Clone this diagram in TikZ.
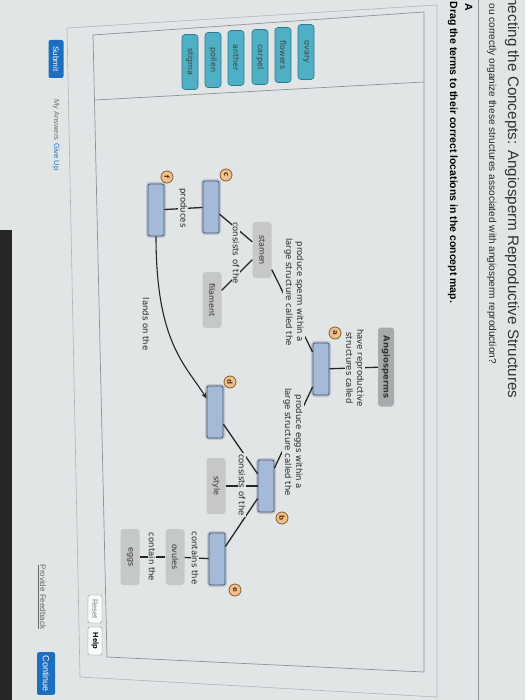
\documentclass[tikz,border=0pt]{standalone}
\usepackage{fontspec}
\setmainfont{DejaVu Sans}
\newfontfamily\webfont{Liberation Sans}
\usetikzlibrary{arrows.meta}

\definecolor{screenbg}{HTML}{E1E5E6}
\definecolor{chipfill}{HTML}{4FB0C5}
\definecolor{chipline}{HTML}{2C7A8C}
\definecolor{slotfill}{HTML}{A4BAD7}
\definecolor{slotline}{HTML}{44566E}
\definecolor{slothalo}{HTML}{C0C6CE}
\definecolor{termfill}{HTML}{C6C7C9}
\definecolor{rootfill}{HTML}{A8AAAC}
\definecolor{tagfill}{HTML}{F0C08C}
\definecolor{tagline}{HTML}{8A5A2C}
\definecolor{btnblue}{HTML}{1E6EC0}
\definecolor{framegray}{HTML}{8E9397}

\tikzset{
  slot/.style={rectangle, rounded corners=2pt, draw=slotline, fill=slotfill, line width=0.8pt,
    minimum width=52pt, minimum height=16pt, preaction={draw=slothalo, line width=4pt}},
  term/.style={rectangle, rounded corners=3pt, fill=termfill, minimum width=56pt, minimum height=19pt,
    font=\fontsize{8}{9}\selectfont, text=black!80},
  chip/.style={rectangle, rounded corners=3pt, draw=chipline, fill=chipfill, line width=0.6pt,
    minimum width=55pt, minimum height=16pt, font=\fontsize{8}{9}\selectfont, text=black!75},
  lbl/.style={fill=screenbg, inner sep=1pt, align=center, font=\fontsize{8.5}{11}\selectfont, text=black!85},
  tag/.style={circle, draw=tagline, fill=tagfill, line width=0.8pt, minimum size=12pt, inner sep=0pt,
    font=\fontsize{7}{7}\selectfont\bfseries, text=tagline!60!black},
  link/.style={line width=1.3pt, draw=black!85},
  btnbox/.style={rectangle, rounded corners=1.5pt, draw=black!45, fill=white!85!screenbg, minimum width=28pt,
    minimum height=14pt, inner sep=1pt, font=\webfont\fontsize{7.5}{8}\selectfont}
}

\begin{document}
\begin{tikzpicture}[x=1pt,y=1pt]
\begin{scope}[rotate=-90, transform shape]
  \path[use as bounding box] (0,0) rectangle (700,525);
  \clip (0,0) rectangle (700,525);
  \fill[screenbg] (0,0) rectangle (700,525);
  \fill[black!85] (230,0) rectangle (700,12);

  % header
  \node[anchor=base west, font=\webfont\fontsize{15.2}{16}\selectfont, text=black!80] (title) at (-6,508)
    {necting the Concepts: Angiosperm Reproductive Structures};
  \node[anchor=base west, font=\webfont\fontsize{10.1}{11}\selectfont, text=black!85] (question) at (0,489)
    {ou correctly organize these structures associated with angiosperm reproduction?};
  \draw[framegray, line width=0.6pt] (0,478) -- (700,478);
  \node[anchor=base west, font=\webfont\bfseries\fontsize{10.5}{11}\selectfont] (part) at (0,465) {A};
  \node[anchor=base west, font=\webfont\bfseries\fontsize{10.5}{11}\selectfont] (drag) at (-2,450)
    {Drag the terms to their correct locations in the concept map.};

  % panels
  \draw[framegray!70, line width=0.6pt] (28,67) -- (5,437) -- (697,437) -- (677,80) -- cycle;
  \draw[framegray, line width=0.7pt] (35,93) -- (12,424) -- (672,424) -- (657,107) -- cycle;
  \draw[framegray, line width=0.7pt] (100,95) -- (82,424);

  % term bank
  \node[chip] (ovary) at (52,306) {ovary};
  \node[chip] (flowers) at (55,283) {flowers};
  \node[chip] (carpel) at (57,260) {carpel};
  \node[chip] (anther) at (58,236) {anther};
  \node[chip] (pollen) at (60,213) {pollen};
  \node[chip] (stigma) at (62,190) {stigma};

  % concept map
  \node[term, fill=rootfill, font=\fontsize{8.5}{9}\selectfont\bfseries, minimum width=79pt, minimum height=16pt] (angio) at (367,386) {Angiosperms};
  \node[slot] (slota) at (369,321) {};
  \node[slot] (slotb) at (486,266) {};
  \node[slot] (slotc) at (207,211) {};
  \node[slot] (slotd) at (412,215) {};
  \node[slot] (slote) at (559,217) {};
  \node[slot] (slotf) at (210,156) {};
  \node[term] (stamen) at (250,262) {stamen};
  \node[term] (filament) at (300,212) {filament};
  \node[term] (style) at (486,216) {style};
  \node[term] (ovules) at (557,175) {ovules};
  \node[term] (eggs) at (557,130) {eggs};

  \draw[link] (angio) -- (slota);
  \draw[link] (slota) -- (stamen);
  \draw[link] (slota) -- (slotb);
  \draw[link] (stamen) -- (slotc);
  \draw[link] (stamen) -- (filament);
  \draw[link] (slotc) -- (slotf);
  \draw[link] (slotb) -- (slotd);
  \draw[link] (slotb) -- (style);
  \draw[link] (slotb) -- (slote);
  \draw[link] (slote) -- (ovules);
  \draw[link] (ovules) -- (eggs);
  \draw[link, line width=1.1pt, -{Stealth[length=6pt,width=5pt]}] (slotf)
    to[out=0, in=212, out looseness=1.6, in looseness=0.6] (slotd);

  \node[lbl] (haslbl) at (368,355) {have reproductive\\structures called};
  \node[lbl] (spermlbl) at (292,294) {produce sperm within a\\large structure called the};
  \node[lbl] (egglbl) at (442,293) {produce eggs within a\\large structure called the};
  \node[lbl] (conslbl) at (253,236) {consists of the};
  \node[lbl] (prodlbl) at (208,183) {produces};
  \node[lbl] (conslblb) at (485,242) {consists of the};
  \node[lbl] (contlbl) at (558,195) {contains the};
  \node[lbl] (eggslbl) at (557,152) {contain the};
  \node[lbl, fill=none] (landlbl) at (324,146) {lands on the};

  \node[tag] (taga) at (333,335) {a};
  \node[tag] (tagb) at (518,282) {b};
  \node[tag] (tagc) at (175,226) {c};
  \node[tag] (tagd) at (382,230) {d};
  \node[tag] (tage) at (590,235) {e};
  \node[tag] (tagf) at (177,167) {f};

  % buttons
  \node[rectangle, rounded corners=2pt, fill=btnblue, text=white, minimum width=38pt, minimum height=15pt,
    font=\webfont\fontsize{8}{9}\selectfont] (submit) at (59,56) {Submit};
  \node[font=\webfont\fontsize{7.5}{8}\selectfont, text=black!55] (myans) at (120,56) {My Answers};
  \node[font=\webfont\fontsize{7.5}{8}\selectfont, text=btnblue] (giveup) at (157,56) {Give Up};
  \node[btnbox, text=black!50] (reset) at (609,95) {Reset};
  \node[btnbox, font=\webfont\bfseries\fontsize{7.5}{8}\selectfont] (help) at (641,95) {Help};
  \node[font=\webfont\fontsize{8}{9}\selectfont, text=black!60] (feedback) at (597,42) {\underline{Provide Feedback}};
  \node[anchor=west, rectangle, rounded corners=2pt, fill=btnblue, text=white, minimum height=18pt,
    font=\webfont\fontsize{9}{10}\selectfont] (continue) at (652,46) {Continue\hspace{20pt}};
\end{scope}
\end{tikzpicture}
\end{document}
